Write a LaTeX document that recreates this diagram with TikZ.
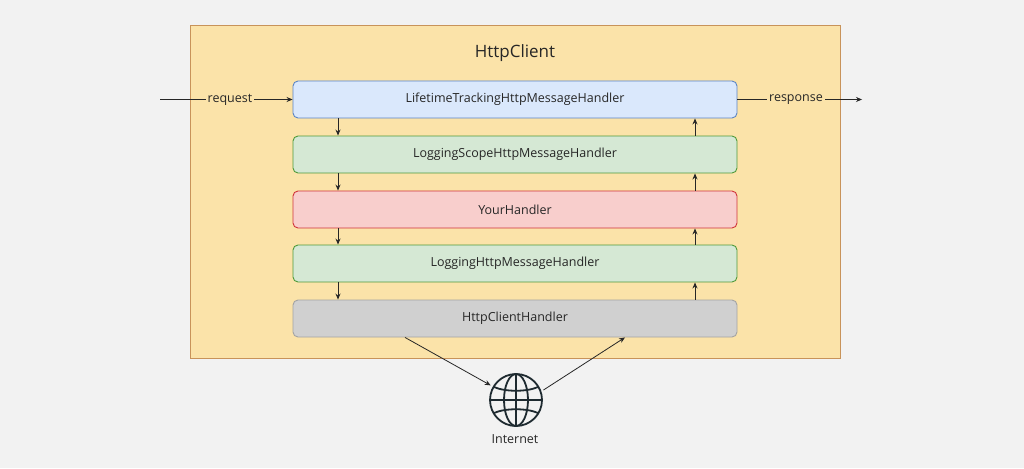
\documentclass[tikz,border=0pt]{standalone}
\usepackage{fontspec}
\setmainfont{Open Sans}
\usetikzlibrary{arrows.meta}
\definecolor{bg}{HTML}{F2F2F2}
\definecolor{outf}{HTML}{FBE3A9}
\definecolor{outd}{HTML}{C8935A}
\definecolor{bluef}{HTML}{DAE8FC}\definecolor{blued}{HTML}{5B84C4}
\definecolor{greenf}{HTML}{D5E8D4}\definecolor{greend}{HTML}{4F9A3A}
\definecolor{redf}{HTML}{F8CECC}\definecolor{redd}{HTML}{D0343A}
\definecolor{grayf}{HTML}{D0D0D0}\definecolor{grayd}{HTML}{A3A3A3}
\definecolor{ink}{HTML}{1E2A30}
\begin{document}
\begin{tikzpicture}[x=1pt,y=-1pt,
  hbox/.style={draw,line width=0.9pt,rounded corners=5pt,minimum width=444pt,minimum height=37pt,font=\fontsize{12.5}{14}\selectfont,text=black!85},
  arr/.style={-{Stealth[length=6pt,width=5pt]},draw=black!85,line width=0.8pt},
  lbl/.style={fill=outf,font=\fontsize{12.5}{14}\selectfont,text=black!85,inner sep=2pt}]
\fill[bg] (0,0) rectangle (1024,468);
\useasboundingbox (0,0) rectangle (1024,468);
\node[draw=outd,line width=0.9pt,fill=outf,minimum width=650pt,minimum height=333pt,anchor=north west,inner sep=0] (outer) at (190,25) {};
\node[font=\fontsize{17}{20}\selectfont,text=black!85] (title) at (515,53) {HttpClient};
\node[hbox,fill=bluef,draw=blued] (b1) at (515,99.5) {LifetimeTrackingHttpMessageHandler};
\node[hbox,fill=greenf,draw=greend] (b2) at (515,154.5) {LoggingScopeHttpMessageHandler};
\node[hbox,fill=redf,draw=redd] (b3) at (515,209.5) {YourHandler};
\node[hbox,fill=greenf,draw=greend] (b4) at (515,263.5) {LoggingHttpMessageHandler};
\node[hbox,fill=grayf,draw=grayd] (b5) at (515,318.5) {HttpClientHandler};
\foreach \a/\b in {b1/b2,b2/b3,b3/b4,b4/b5}{
  \draw[arr] ([xshift=-177pt]\a.south) -- ([xshift=-177pt]\b.north);
  \draw[arr] ([xshift=180pt]\b.north) -- ([xshift=180pt]\a.south);
}
\coordinate (rin) at (160,99.5);
\coordinate (rout) at (862,99.5);
\draw[arr] (rin) -- (b1.west) node[lbl,pos=0.53,fill=none]{};
\node[lbl] (req) at (230,99.5) {request};
\node[lbl] (resp) at (796,99.5) {response};
% globe
\node[circle,minimum size=58pt,inner sep=0] (globe) at (516,400) {};
\begin{scope}[draw=ink,line width=1.8pt]
\draw (516,400) circle (26);
\draw (516,400) ellipse (12 and 26);
\draw (516,374) -- (516,426);
\draw (490,400) -- (542,400);
\draw (494,387) .. controls (505,392) and (527,392) .. (538,387);
\draw (494,413) .. controls (505,408) and (527,408) .. (538,413);
\end{scope}
\node[font=\fontsize{12.5}{14}\selectfont,text=black!85] (inet) at (515,439) {Internet};
\draw[arr] ([xshift=-110pt]b5.south) -- (globe.150);
\draw[arr] (globe.20) -- ([xshift=110pt]b5.south);
\draw[arr] (b1.east) -- (rout);
\node[lbl] at (796,99.5) {response};
\end{tikzpicture}
\end{document}
